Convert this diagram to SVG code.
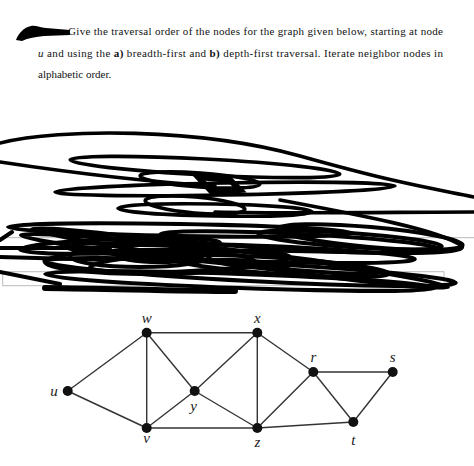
<svg xmlns="http://www.w3.org/2000/svg" width="474" height="466" viewBox="0 0 474 466">
<style>
.t{font-family:"Liberation Serif","DejaVu Serif",serif;font-size:11px;fill:#111}
.lbl{font-family:"Liberation Serif","DejaVu Serif",serif;font-size:15px;font-style:italic;fill:#222;text-anchor:middle}
.e{stroke:#333;stroke-width:1.4;fill:none}
.n{fill:#111}
.sc{fill:none;stroke:#000;stroke-width:3.6;stroke-linecap:round}
.sd{fill:none;stroke:#000;stroke-width:4;stroke-linecap:round}
.sc2{fill:none;stroke:#000;stroke-width:6;stroke-linecap:round}
.gr{fill:none;stroke:#bbb;stroke-width:1}
</style>
<rect width="474" height="466" fill="#fff"/>
<path d="M16,40 C18,34 24,27 31,26 C36,25 40,28 46,28 L70,30 L70,35 L44,36 C36,37 28,38 22,41 Z" fill="#000"/>
<text class="t" x="68" y="35" textLength="375" lengthAdjust="spacing" font-family="Liberation Serif, DejaVu Serif, serif">Give the traversal order of the nodes for the graph given below, starting at node</text>
<text class="t" x="38" y="56.5" textLength="405" lengthAdjust="spacing" font-family="Liberation Serif, DejaVu Serif, serif"><tspan font-style="italic">u</tspan> and using the <tspan font-weight="bold">a)</tspan> breadth-first and <tspan font-weight="bold">b)</tspan> depth-first traversal. Iterate neighbor nodes in</text>
<text class="t" x="38" y="77.5" font-family="Liberation Serif, DejaVu Serif, serif">alphabetic order.</text>
<g id="redaction">
<line class="gr" x1="0" y1="237.7" x2="474" y2="237.7"/>
<rect class="gr" x="2.7" y="271.7" width="441.3" height="14"/>
<path class="sc" d="M0,143 C60,128 200,128 300,156 S430,188 474,197"/>
<path class="sc" d="M0,162 C80,174 150,182 215,186"/>
<path class="sc" d="M215,212 C300,214 400,212 474,212"/>
<path class="sc" d="M280,200 C360,215 440,230 462,246 C466,252 430,254 380,253 C300,251 200,250 150,250"/>
<ellipse class="sc" cx="205" cy="167" rx="135" ry="8" transform="rotate(3 205 167)"/>
<ellipse class="sc" cx="200" cy="180" rx="60" ry="7" transform="rotate(4 200 180)"/>
<ellipse class="sc" cx="225" cy="189" rx="170" ry="6" transform="rotate(-1 225 189)"/>
<ellipse class="sc" cx="195" cy="205" rx="50" ry="8" transform="rotate(5 195 205)"/>
<ellipse class="sc" cx="215" cy="210" rx="97" ry="6" transform="rotate(1 215 210)"/>
<path class="sc2" d="M198,177 L230,180 L240,190 L212,192 Z"/>
<ellipse class="sd" cx="180" cy="230" rx="172" ry="6" transform="rotate(1 180 230)"/>
<ellipse class="sd" cx="370" cy="237" rx="93" ry="10" transform="rotate(5 370 237)"/>
<ellipse class="sd" cx="350" cy="240" rx="92" ry="7" transform="rotate(4 350 240)"/>
<ellipse class="sd" cx="300" cy="242" rx="140" ry="8" transform="rotate(3 300 242)"/>
<ellipse class="sd" cx="240" cy="253" rx="175" ry="8" transform="rotate(2 240 253)"/>
<ellipse class="sd" cx="240" cy="258" rx="210" ry="7" transform="rotate(8 240 258)"/>
<ellipse class="sd" cx="200" cy="254" rx="180" ry="7" transform="rotate(6 200 254)"/>
<ellipse class="sd" cx="250" cy="272" rx="206" ry="9" transform="rotate(3 250 272)"/>
<ellipse class="sd" cx="240" cy="281" rx="195" ry="7" transform="rotate(2 240 281)"/>
<ellipse class="sd" cx="150" cy="262" rx="105" ry="12"/>
<ellipse class="sd" cx="140" cy="256" rx="70" ry="11"/>
<ellipse class="sd" cx="190" cy="262" rx="100" ry="9" transform="rotate(-3 190 262)"/>
<ellipse class="sd" cx="280" cy="266" rx="110" ry="8" transform="rotate(4 280 266)"/>
<ellipse class="sd" cx="120" cy="246" rx="100" ry="7" transform="rotate(-2 120 246)"/>
<ellipse cx="160" cy="256" rx="45" ry="8" fill="#000"/>
<ellipse cx="250" cy="264" rx="40" ry="5" fill="#000" transform="rotate(5 250 264)"/>
<path class="sd" d="M0,248 L110,248 M0,257 L110,260 M0,240 L12,232 M0,272 C20,276 40,280 60,284"/>
<path class="sc2" d="M45,288 C120,289 180,291 235,291"/>
</g>
<g id="connectors">
<line class="e" x1="67.7" y1="391" x2="146.7" y2="332.7"/>
<line class="e" x1="67.7" y1="391" x2="146.7" y2="428"/>
<line class="e" x1="146.7" y1="332.7" x2="257.3" y2="332.7"/>
<line class="e" x1="146.7" y1="332.7" x2="146.7" y2="428"/>
<line class="e" x1="146.7" y1="332.7" x2="194.7" y2="391"/>
<line class="e" x1="257.3" y1="332.7" x2="194.7" y2="391"/>
<line class="e" x1="257.3" y1="332.7" x2="257.3" y2="428"/>
<line class="e" x1="257.3" y1="332.7" x2="313.3" y2="372"/>
<line class="e" x1="146.7" y1="428" x2="194.7" y2="391"/>
<line class="e" x1="146.7" y1="428" x2="257.3" y2="428"/>
<line class="e" x1="194.7" y1="391" x2="257.3" y2="428"/>
<line class="e" x1="257.3" y1="428" x2="313.3" y2="372"/>
<line class="e" x1="257.3" y1="428" x2="353.3" y2="422"/>
<line class="e" x1="313.3" y1="372" x2="392.7" y2="372"/>
<line class="e" x1="313.3" y1="372" x2="353.3" y2="422"/>
<line class="e" x1="392.7" y1="372" x2="353.3" y2="422"/>
</g>
<g id="node-u"><circle class="n" cx="67.7" cy="391" r="5"/><text class="lbl" x="54" y="396">u</text></g>
<g id="node-w"><circle class="n" cx="146.7" cy="332.7" r="5"/><text class="lbl" x="146.7" y="323">w</text></g>
<g id="node-x"><circle class="n" cx="257.3" cy="332.7" r="5"/><text class="lbl" x="257.3" y="323">x</text></g>
<g id="node-y"><circle class="n" cx="194.7" cy="391" r="5"/><text class="lbl" x="193.5" y="411">y</text></g>
<g id="node-v"><circle class="n" cx="146.7" cy="428" r="5"/><text class="lbl" x="146.7" y="443">v</text></g>
<g id="node-z"><circle class="n" cx="257.3" cy="428" r="5"/><text class="lbl" x="257.3" y="447">z</text></g>
<g id="node-r"><circle class="n" cx="313.3" cy="372" r="5"/><text class="lbl" x="313.3" y="362">r</text></g>
<g id="node-s"><circle class="n" cx="392.7" cy="372" r="5"/><text class="lbl" x="392.7" y="362">s</text></g>
<g id="node-t"><circle class="n" cx="353.3" cy="422" r="5"/><text class="lbl" x="353.3" y="445">t</text></g>
</svg>
